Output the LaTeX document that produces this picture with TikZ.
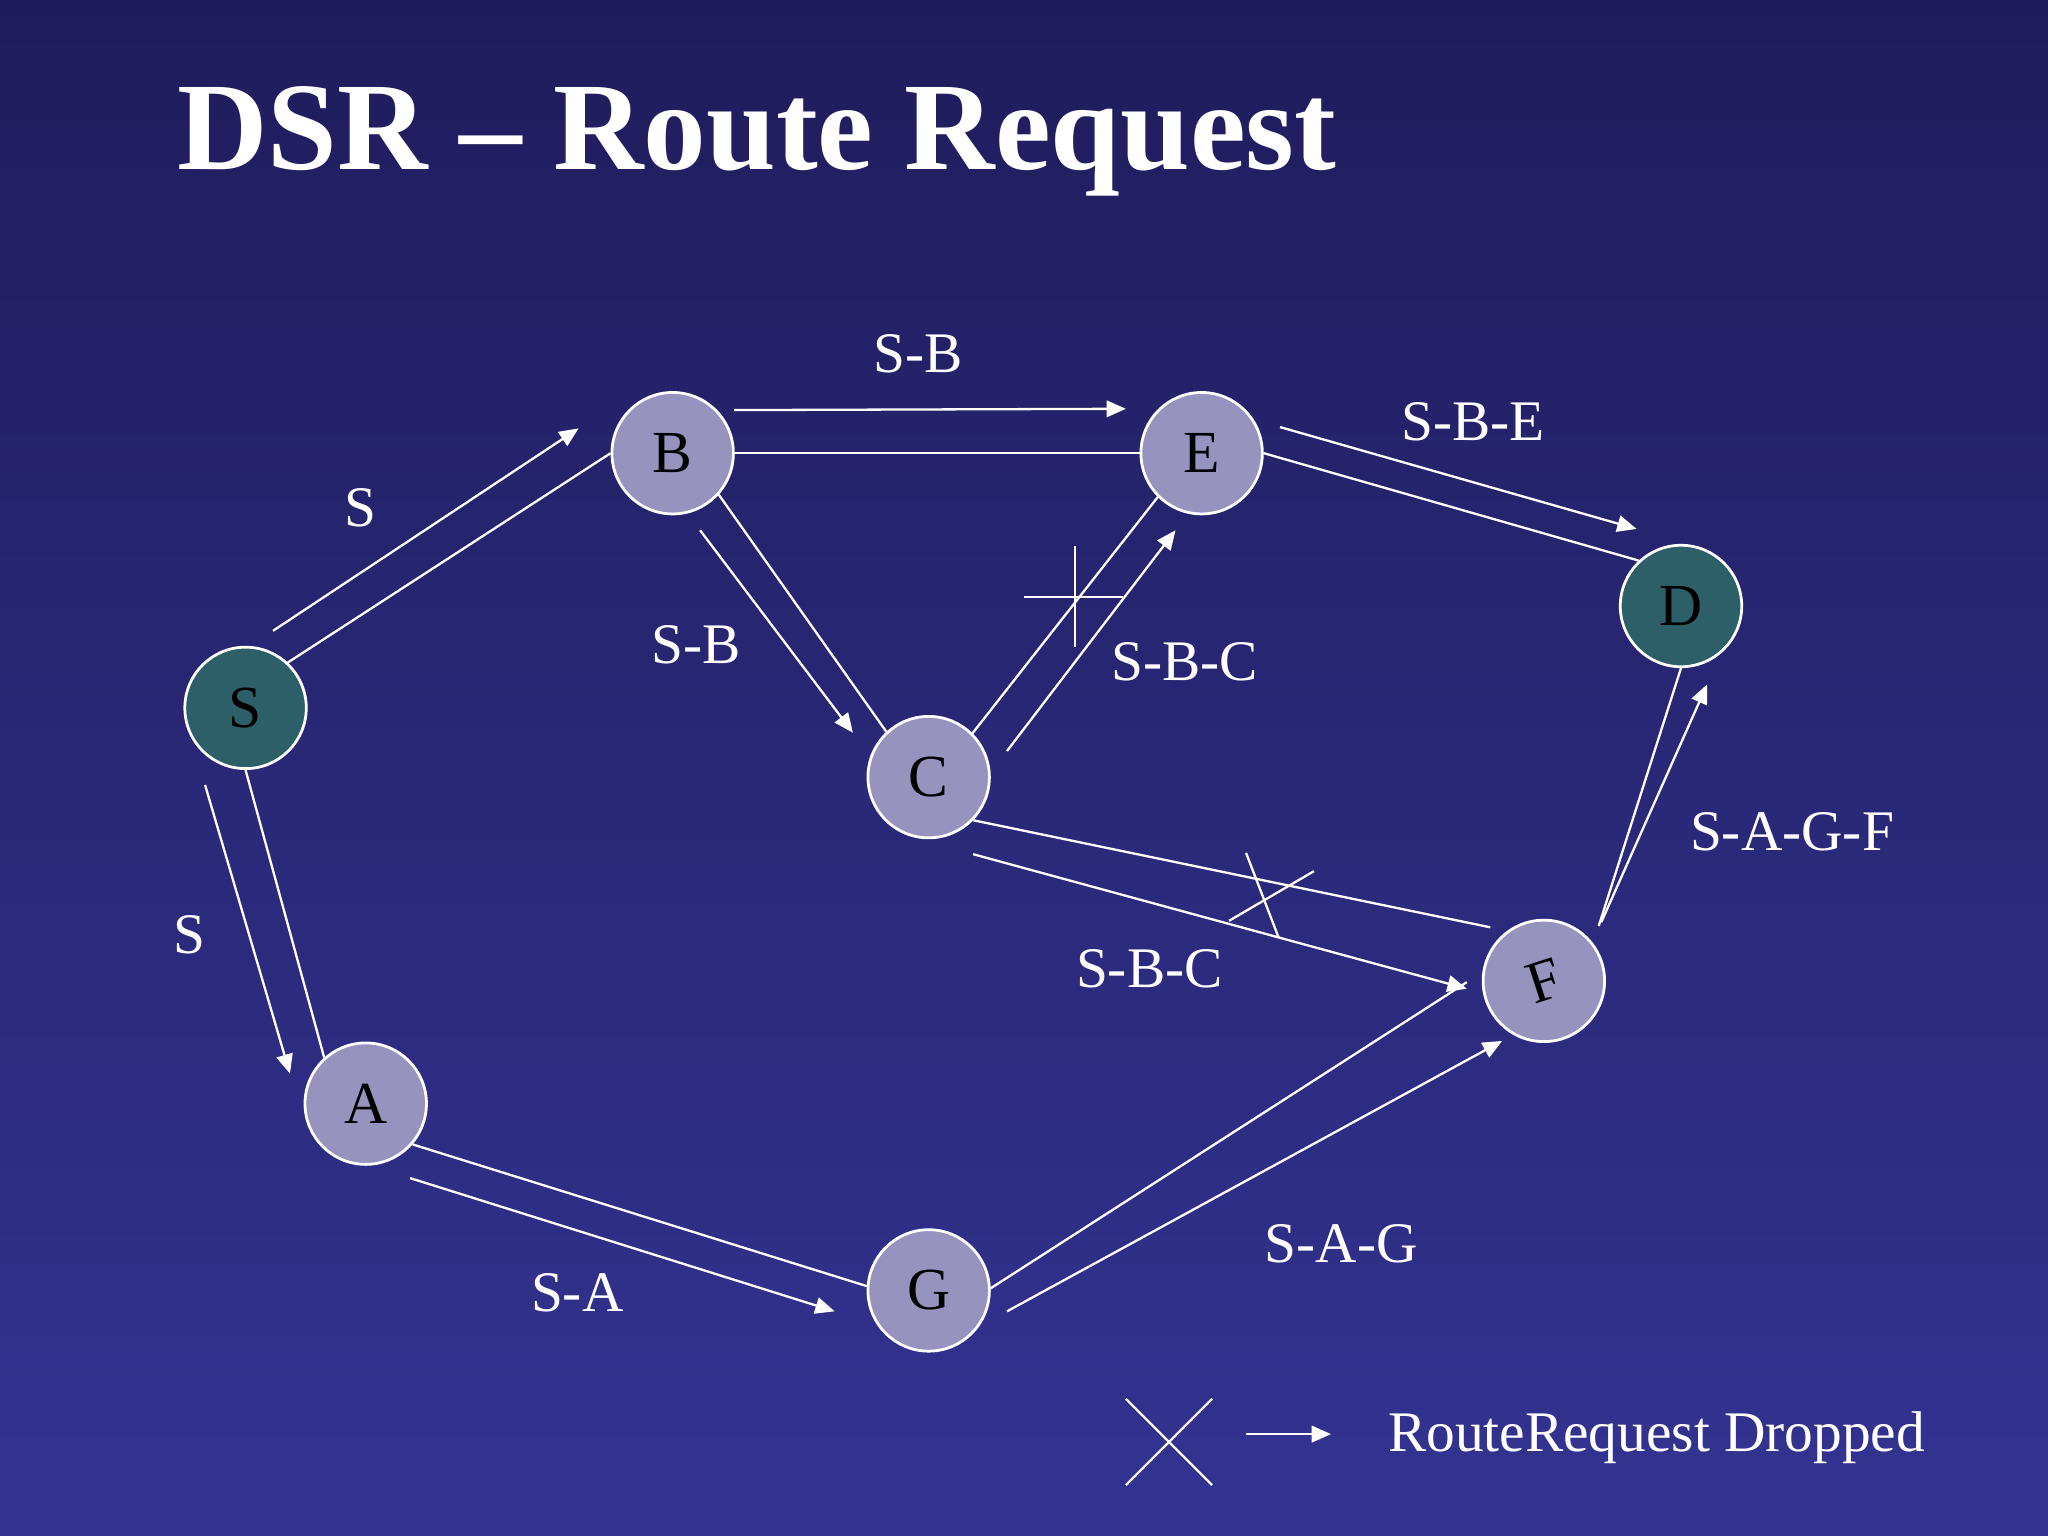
\documentclass[tikz,border=0pt]{standalone}
\usepackage{fontspec}
\setmainfont{Liberation Serif}
\usepackage{tikz}
\usetikzlibrary{calc,arrows.meta}
\definecolor{bgtop}{RGB}{32,28,92}
\definecolor{bgbot}{RGB}{51,51,146}
\definecolor{hostfill}{RGB}{150,148,190}
\definecolor{endfill}{RGB}{45,95,104}

\begin{document}
\begin{tikzpicture}[
  host/.style={circle, draw=white, line width=0.6pt, fill=hostfill, minimum size=0.93cm, inner sep=0pt, font=\fontsize{13}{15}\selectfont},
  endhost/.style={host, fill=endfill},
  link/.style={draw=white, line width=0.5pt},
  rreq/.style={link, -{Triangle[length=4.2pt,width=3.6pt]}},
  lbl/.style={text=white, font=\fontsize{12.5}{15}\selectfont, inner sep=0pt}]
\useasboundingbox (0,0) rectangle (15.68,11.76);
\shade[top color=bgtop, bottom color=bgbot] (0,0) rectangle (15.68,11.76);

\node[anchor=base west, inner sep=0pt, text=white, font=\fontsize{27.3}{32}\selectfont\bfseries] (title) at (1.35,10.46) {DSR -- Route Request};

\node[endhost] (S) at (1.88,6.34) {S};
\node[host] (B) at (5.15,8.29) {B};
\node[host] (E) at (9.20,8.29) {E};
\node[endhost] (D) at (12.87,7.12) {D};
\node[host] (C) at (7.11,5.81) {C};
\node[host] (F) at (11.82,4.25) {\rotatebox{18}{F}};
\node[host] (A) at (2.80,3.31) {A};
\node[host] (G) at (7.11,1.88) {G};

\draw[link] (S.47) -- (B.180);
\draw[link] (S.-90) -- (A.132);
\draw[link] (B) -- (E);
\draw[link] (B.-42) -- (C.133);
\draw[link] (E.0) -- (D.133);
\draw[link] (C.45) -- (E.-135);
\draw[link] (C.-44) -- ($(F)+(-0.41,0.41)$);
\draw[link] (A.-41) -- (G.176);
\draw[link] (G.2) -- ($(F)+(-0.59,-0.01)$);
\draw[link] ($(F)+(0.42,0.42)$) -- (D.-90);

\draw[rreq] ($(S)+(0.21,0.59)$) -- ($(B)+(-0.72,0.19)$);
\draw[rreq] ($(S)+(-0.31,-0.59)$) -- ($(A)+(-0.58,0.23)$);
\draw[rreq] ($(B)+(0.47,0.33)$) -- ($(E)+(-0.58,0.34)$);
\draw[rreq] ($(B)+(0.21,-0.59)$) -- ($(C)+(-0.58,0.34)$);
\draw[rreq] ($(E)+(0.60,0.20)$) -- ($(D)+(-0.34,0.59)$);
\draw[rreq] ($(C)+(0.60,0.20)$) -- ($(E)+(-0.20,-0.59)$);
\draw[rreq] ($(C)+(0.34,-0.59)$) -- ($(F)+(-0.59,-0.06)$);
\draw[rreq] ($(A)+(0.34,-0.57)$) -- ($(G)+(-0.72,-0.16)$);
\draw[rreq] ($(G)+(0.60,-0.16)$) -- ($(F)+(-0.32,-0.46)$);
\draw[rreq] ($(F)+(0.44,0.45)$) -- ($(D)+(0.20,-0.60)$);

\draw[link] (8.23,7.58) -- (8.23,6.81);
\draw[link] (7.84,7.19) -- (8.60,7.19);
\draw[link] (9.54,5.23) -- (9.79,4.58);
\draw[link] (9.41,4.71) -- (10.06,5.09);

\node[lbl] (lS1) at (2.76,7.87) {S};
\node[lbl] (lSB1) at (7.03,9.05) {S-B};
\node[lbl] (lSBE) at (11.28,8.53) {S-B-E};
\node[lbl] (lSB2) at (5.33,6.82) {S-B};
\node[lbl] (lSBC1) at (9.07,6.69) {S-B-C};
\node[lbl] (lS2) at (1.45,4.60) {S};
\node[lbl] (lSBC2) at (8.80,4.34) {S-B-C};
\node[lbl] (lSAGF) at (13.72,5.39) {S-A-G-F};
\node[lbl] (lSAG) at (10.27,2.24) {S-A-G};
\node[lbl] (lSA) at (4.42,1.86) {S-A};

\draw[link] (8.62,1.05) -- (9.28,0.39);
\draw[link] (8.62,0.39) -- (9.28,1.05);
\coordinate (k1) at (9.54,0.78);
\coordinate (k2) at (10.19,0.78);
\draw[rreq] (k1) -- (k2);
\node[lbl, anchor=base west] (key) at (10.62,0.65) {RouteRequest Dropped};
\end{tikzpicture}
\end{document}
